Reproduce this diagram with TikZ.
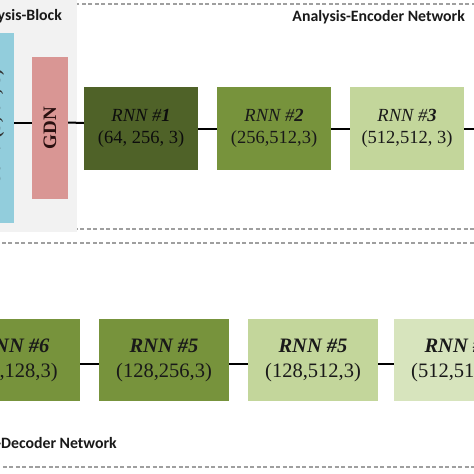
\documentclass[tikz,border=0pt]{standalone}
\usepackage{fontspec}
\setmainfont{Liberation Serif}
\newfontfamily\titlefont{Carlito}
\definecolor{gblock}{HTML}{F2F2F2}
\definecolor{cblue}{HTML}{92CDDC}
\definecolor{cgdn}{HTML}{D99694}
\definecolor{gdark}{HTML}{4F6228}
\definecolor{gmid}{HTML}{77933C}
\definecolor{glight}{HTML}{C3D69B}
\definecolor{glighter}{HTML}{D7E4BD}
\definecolor{gdntext}{HTML}{2A1010}
\begin{document}
\begin{tikzpicture}[x=1pt,y=-1pt,
  box/.style={rectangle, inner sep=0pt, align=center, text=black!90},
  topbox/.style={box, minimum width=114pt, minimum height=83pt, font=\fontsize{18.5}{22.5}\selectfont},
  botbox/.style={box, minimum width=130pt, minimum height=82pt, font=\fontsize{20.5}{25}\selectfont},
  vbox/.style={box, rotate=90, font=\bfseries\fontsize{19}{22}\selectfont},
  link/.style={line width=2pt, black},
  grp/.style={draw=gray!75, line width=1.2pt, dash pattern=on 4pt off 2.5pt},
  title/.style={font=\titlefont\bfseries\fontsize{15.8}{18}\selectfont, inner sep=0pt, text=black!90}]
\useasboundingbox (0,0) rectangle (474,474);
\clip (0,0) rectangle (474,474);
% group frames
\draw[grp] (-20,4) rectangle (500,229);
\draw[grp] (-20,243) rectangle (500,467);
% analysis block background
\fill[gblock] (-20,-10) rectangle (77,232);
\node[title, anchor=base east] (tblock) at (62,20) {Analysis-Block};
\node[title, anchor=base east] (tenc) at (465,21) {Analysis-Encoder Network};
\node[title, anchor=base east] (tdec) at (117,448) {Synthesis-Decoder Network};
% analysis block contents
\node[vbox, fill=cblue, minimum width=190pt, minimum height=34pt] (conv) at (-3,128) {};
\node[vbox, text=black!80] (convt) at (-4.5,128) {Conv (3, 64, 3)};
\node[vbox, fill=cgdn, minimum width=142pt, minimum height=36pt, text=gdntext] (gdn) at (50,128) {GDN};
% encoder
\node[topbox, fill=gdark, text=black!95] (r1) at (141,128.5) {\textit{RNN \#\textbf{1}}\\(64, 256, 3)};
\node[topbox, fill=gmid] (r2) at (274,128.5) {\textit{RNN \#\textbf{2}}\\(256,512,3)};
\node[topbox, fill=glight] (r3) at (407,128.5) {\textit{RNN \#\textbf{3}}\\(512,512, 3)};
\coordinate (encout) at (480,128.5);
% decoder
\node[botbox, fill=gmid] (r6) at (15,360) {\textbf{\textit{RNN \#6}}\\(64,128,3)};
\node[botbox, fill=gmid] (r5a) at (164,360) {\textbf{\textit{RNN \#5}}\\(128,256,3)};
\node[botbox, fill=glight] (r5b) at (313,360) {\textbf{\textit{RNN \#5}}\\(128,512,3)};
\node[botbox, fill=glighter] (r4) at (459,360) {\textbf{\textit{RNN \#4}}\\(512,512,3)};
% connectors
\draw[link] ([yshift=5.5pt]conv.south) -- ([yshift=5.5pt]gdn.north);
\draw[link] ([yshift=5.5pt]gdn.south) -- ([yshift=5.5pt]r1.west);
\draw[link] (r1.east) -- (r2.west);
\draw[link] (r2.east) -- (r3.west);
\draw[link] (r3.east) -- (encout);
\draw[link] ([yshift=-4pt]r6.east) -- ([yshift=-4pt]r5a.west);
\draw[link] ([yshift=-4pt]r5a.east) -- ([yshift=-4pt]r5b.west);
\draw[link] ([yshift=-4pt]r5b.east) -- ([yshift=-4pt]r4.west);
\end{tikzpicture}
\end{document}
